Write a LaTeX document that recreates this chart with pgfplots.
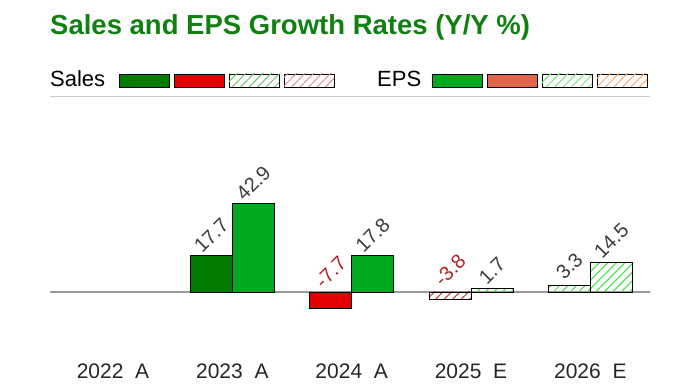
\documentclass[border=0pt]{standalone}
\usepackage{pgfplots}
\pgfplotsset{compat=1.18}
\usetikzlibrary{patterns.meta}
\usepackage{fontspec}
\setmainfont{Liberation Sans}
\definecolor{titlegreen}{RGB}{16,128,16}
\definecolor{salesA}{RGB}{0,125,0}
\definecolor{salesNeg}{RGB}{228,0,0}
\definecolor{epsA}{RGB}{0,170,30}
\definecolor{epsNeg}{RGB}{222,100,74}
\definecolor{hatchSales}{RGB}{110,200,110}
\definecolor{hatchSalesNeg}{RGB}{200,60,60}
\definecolor{hatchEps}{RGB}{60,225,60}
\definecolor{hatchEpsNeg}{RGB}{250,170,110}
\definecolor{lblgray}{RGB}{60,60,60}
\definecolor{lblred}{RGB}{175,35,35}
\tikzset{
  hs/.style={pattern={Lines[angle=45,distance=6pt,line width=1pt]},pattern color=#1},
}
\begin{document}
\begin{tikzpicture}[x=1pt,y=1pt]
\path (0,0) rectangle (700,387);
% title
\node[anchor=base west,inner sep=0pt,font=\fontsize{27.5}{30}\selectfont\bfseries,text=titlegreen] at (50,387-35) {Sales and EPS Growth Rates (Y/Y \%)};
% legend
\node[anchor=base west,inner sep=0pt,font=\fontsize{22}{24}\selectfont] at (50,387-87) {Sales};
\node[anchor=base west,inner sep=0pt,font=\fontsize{22}{24}\selectfont] at (377,387-87) {EPS};
\draw[black,line width=0.8pt,fill=salesA] (119,387-87) rectangle (169,387-74);
\draw[black,line width=0.8pt,fill=salesNeg] (174,387-87) rectangle (224,387-74);
\draw[black,line width=0.8pt,fill=white] (229,387-87) rectangle (279,387-74);
\fill[hs=hatchSales] (229,387-87) rectangle (279,387-74);
\draw[black,line width=0.8pt,fill=white] (284,387-87) rectangle (334,387-74);
\fill[hs=hatchSalesNeg!60] (284,387-87) rectangle (334,387-74);
\draw[black,line width=0.8pt,fill=epsA] (432,387-87) rectangle (482,387-74);
\draw[black,line width=0.8pt,fill=epsNeg] (487,387-87) rectangle (537,387-74);
\draw[black,line width=0.8pt,fill=white] (542,387-87) rectangle (592,387-74);
\fill[hs=hatchEps!70] (542,387-87) rectangle (592,387-74);
\draw[black,line width=0.8pt,fill=white] (597,387-87) rectangle (647,387-74);
\fill[hs=hatchEpsNeg] (597,387-87) rectangle (647,387-74);
\draw[black!20,line width=1pt] (50,387-97) -- (650,387-97);
\begin{axis}[
  at={(50pt,30pt)}, anchor=south west,
  width=600pt, height=247pt, scale only axis,
  xmin=-0.528, xmax=4.5, ymin=-31.4, ymax=87.9,
  axis line style={draw=none},
  major tick length=0pt,
  ytick=\empty,
  xtick={0,1,2,3,4},
  xticklabels={2022\ \ A,2023\ \ A,2024\ \ A,2025\ \ E,2026\ \ E},
  xticklabel style={font=\fontsize{21}{24}\selectfont,text=black!85,yshift=-3pt},
  ybar, bar width=42pt,
  clip=false,
]
\draw[black!40,line width=1.5pt] (axis cs:-0.528,0) -- (axis cs:4.5,0);
% Sales
\addplot[bar shift=-21pt,draw=black,line width=0.8pt,fill=salesA] coordinates {(1,17.7)};
\addplot[bar shift=-21pt,draw=black,line width=0.8pt,fill=salesNeg] coordinates {(2,-7.7)};
\addplot[bar shift=-21pt,draw=black,line width=0.8pt,hs=hatchSalesNeg] coordinates {(3,-3.8)};
\addplot[bar shift=-21pt,draw=black,line width=0.8pt,hs=hatchSales!70!green] coordinates {(4,3.3)};
% EPS
\addplot[bar shift=21pt,draw=black,line width=0.8pt,fill=epsA] coordinates {(1,42.9) (2,17.8)};
\addplot[bar shift=21pt,draw=black,line width=0.8pt,hs=hatchEps] coordinates {(3,1.7) (4,14.5)};
% value labels
\begin{scope}[every node/.style={rotate=45,font=\fontsize{20}{22}\selectfont,inner sep=0pt}]
\node[text=lblgray] at ([xshift=-21pt,yshift=20pt]axis cs:1,17.7) {17.7};
\node[text=lblgray] at ([xshift=21pt,yshift=20pt]axis cs:1,42.9) {42.9};
\node[text=lblred] at ([xshift=-21pt,yshift=20pt]axis cs:2,0) {-7.7};
\node[text=lblgray] at ([xshift=21pt,yshift=20pt]axis cs:2,17.8) {17.8};
\node[text=lblred] at ([xshift=-21pt,yshift=22pt]axis cs:3,0) {-3.8};
\node[text=lblgray] at ([xshift=21pt,yshift=18pt]axis cs:3,1.7) {1.7};
\node[text=lblgray] at ([xshift=-21pt,yshift=19pt]axis cs:4,3.3) {3.3};
\node[text=lblgray] at ([xshift=21pt,yshift=21pt]axis cs:4,14.5) {14.5};
\end{scope}
\end{axis}
\end{tikzpicture}
\end{document}
